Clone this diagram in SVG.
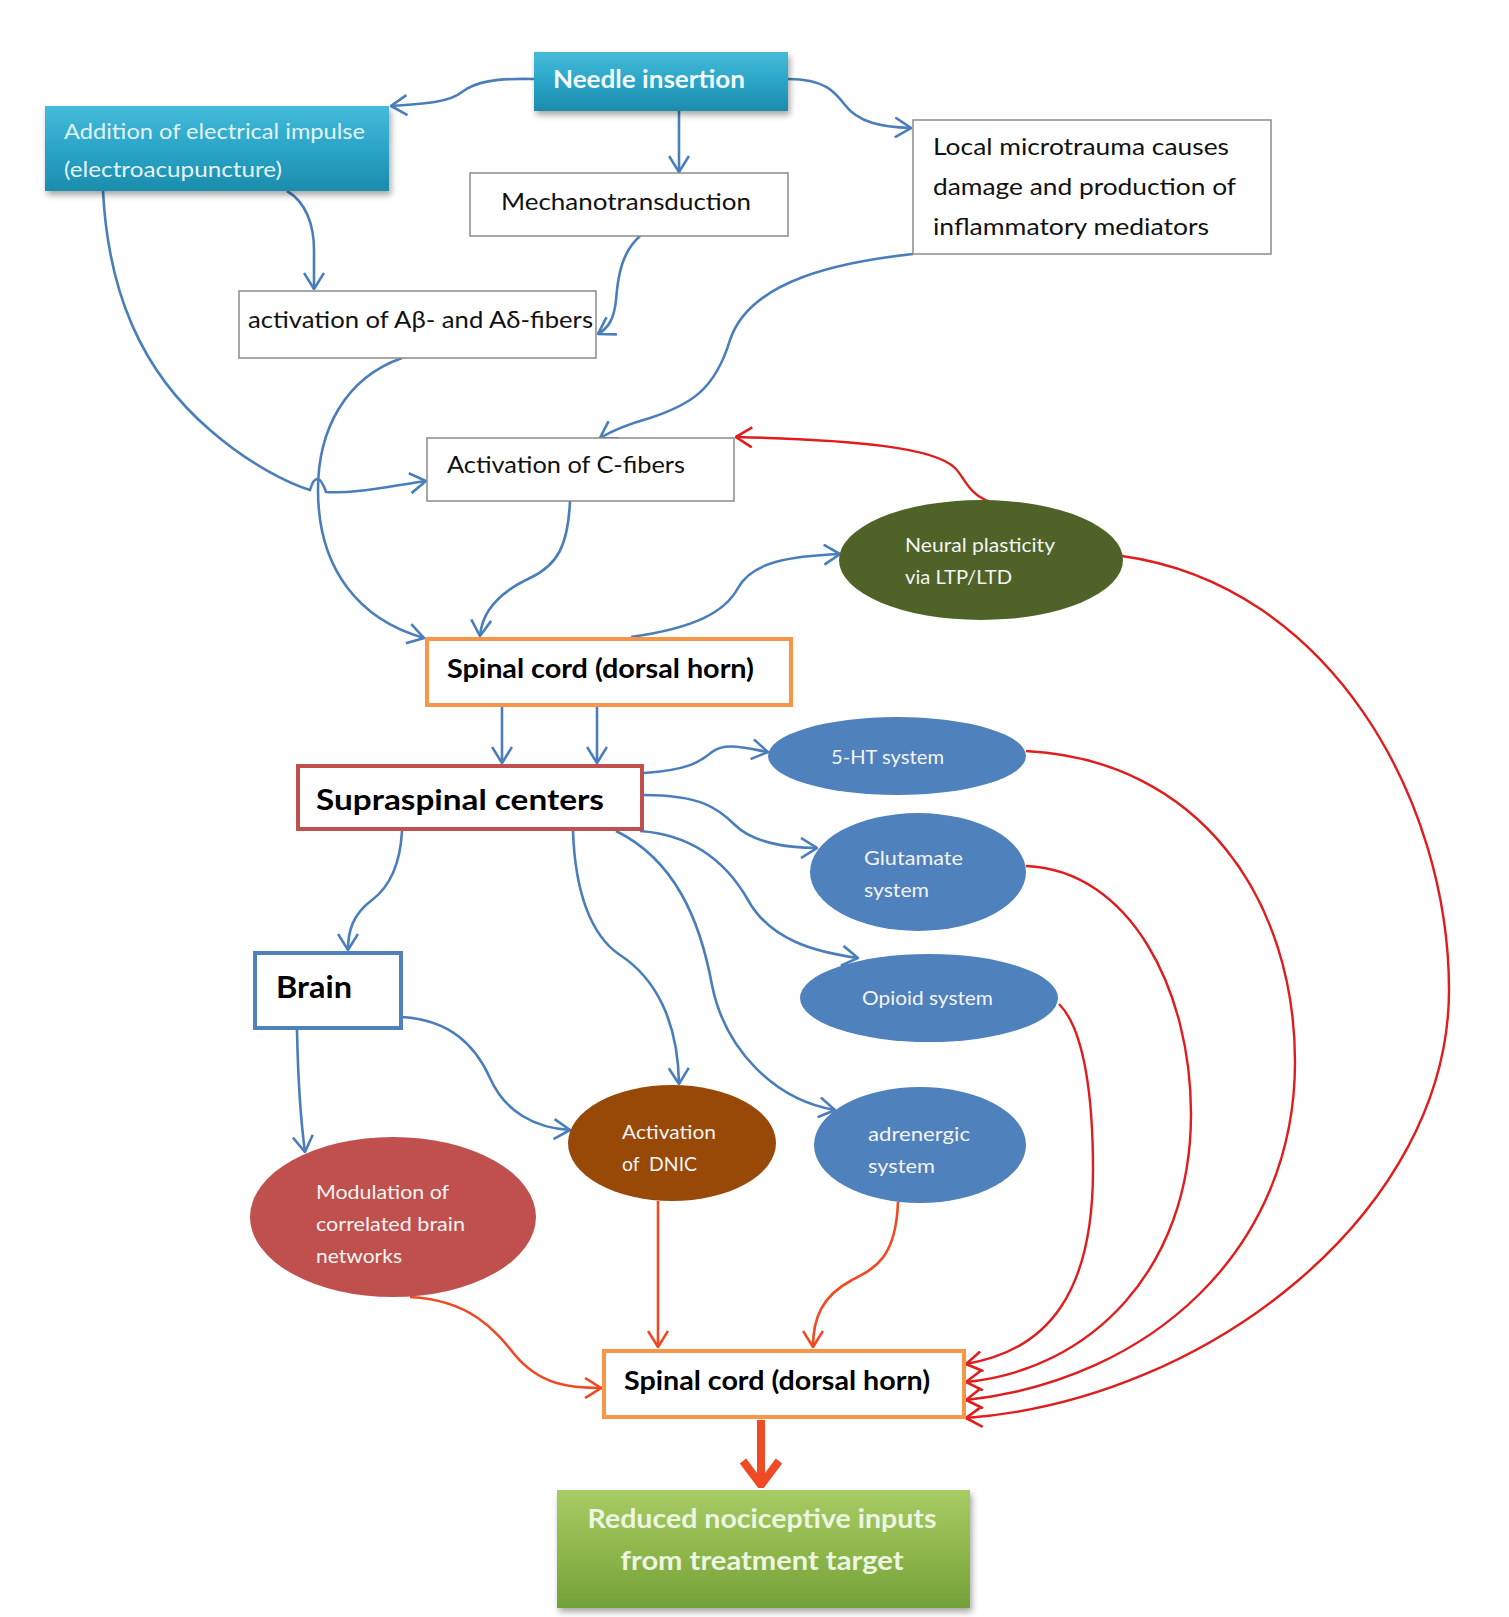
<svg xmlns="http://www.w3.org/2000/svg" width="1509" height="1617" viewBox="0 0 1509 1617">
<style>
.t{font-family:Lato,"Liberation Sans","Noto Sans",sans-serif;}
.box{fill:#fff;stroke:#8a8a8a;stroke-width:1.5}
.tx{font-size:24px;fill:#111}
.el{font-size:19px;fill:#f4f4f4}
.b{stroke:#4a7ebb;stroke-width:2.6;fill:none;marker-end:url(#ab)}
.r{stroke:#e01c1c;stroke-width:2.4;fill:none;marker-end:url(#ar)}
.o{stroke:#ee4a24;stroke-width:2.6;fill:none;marker-end:url(#ao)}
</style>
<defs>
<marker id="ab" viewBox="0 0 18 22" refX="17" refY="11" markerWidth="18" markerHeight="22" markerUnits="userSpaceOnUse" orient="auto"><path d="M1,1 L17,11 L1,21" fill="none" stroke="#4a7ebb" stroke-width="2.6"/></marker>
<marker id="ar" viewBox="0 0 18 22" refX="17" refY="11" markerWidth="18" markerHeight="22" markerUnits="userSpaceOnUse" orient="auto"><path d="M1,1 L17,11 L1,21" fill="none" stroke="#e01c1c" stroke-width="2.6"/></marker>
<marker id="ao" viewBox="0 0 18 22" refX="17" refY="11" markerWidth="18" markerHeight="22" markerUnits="userSpaceOnUse" orient="auto"><path d="M1,1 L17,11 L1,21" fill="none" stroke="#ee4a24" stroke-width="2.6"/></marker>
<marker id="big" viewBox="0 0 30 44" refX="28" refY="22" markerWidth="30" markerHeight="44" markerUnits="userSpaceOnUse" orient="auto"><path d="M3,4 L27,22 L3,40" fill="none" stroke="#ee4a24" stroke-width="8" stroke-linejoin="miter"/></marker>
<linearGradient id="teal" x1="0" y1="0" x2="0" y2="1"><stop offset="0" stop-color="#45bbd9"/><stop offset="0.5" stop-color="#2aa5c8"/><stop offset="1" stop-color="#1c8cac"/></linearGradient>
<linearGradient id="green" x1="0" y1="0" x2="0" y2="1"><stop offset="0" stop-color="#a8cb66"/><stop offset="0.5" stop-color="#8fb84c"/><stop offset="1" stop-color="#74a03a"/></linearGradient>
<filter id="sh" x="-10%" y="-20%" width="125%" height="150%"><feDropShadow dx="2" dy="4" stdDeviation="3" flood-color="#000" flood-opacity="0.35"/></filter>
</defs>

<g id="connectors">
<path class="b" d="M534,79 C495,78 475,82 462,92 C450,102 425,104 391,106"/>
<path class="b" d="M679,111 L679,172"/>
<path class="b" d="M788,79 C825,79 835,92 845,105 C858,122 880,127 911,128"/>
<path class="b" d="M287,191 C306,202 314,225 314,250 L314,289"/>
<path class="b" d="M103,191 C108,290 140,370 210,430 C250,465 290,484 310,490 C314,476 320,474 326,492 C355,494 390,486 426,481"/>
<path class="b" d="M640,236 C622,252 618,275 616,300 C614,320 608,328 598,334"/>
<path class="b" d="M402,358 C345,378 318,430 318,490 C318,570 360,620 424,638"/>
<path class="b" d="M913,254 C840,262 750,280 730,340 C715,390 690,405 650,418 C625,425 610,432 600,438"/>
<path class="b" d="M570,501 C568,545 558,565 530,578 C500,592 482,610 480,636"/>
<path class="b" d="M631,637 C695,628 725,612 738,588 C752,562 790,556 840,554"/>
<path class="r" d="M990,502 C968,494 965,478 955,468 C935,448 860,440 736,437"/>
<path class="b" d="M502,707 L502,763"/>
<path class="b" d="M597,707 L597,763"/>
<path class="b" d="M644,773 C688,770 700,762 712,752 C725,742 745,748 768,752"/>
<path class="b" d="M644,795 C700,795 718,808 735,825 C752,842 785,848 817,848"/>
<path class="b" d="M640,831 C695,835 728,865 748,900 C770,940 815,952 858,958"/>
<path class="b" d="M616,831 C675,860 700,920 712,985 C725,1050 775,1100 835,1110"/>
<path class="b" d="M573,831 C575,890 590,935 620,955 C655,978 678,1020 679,1084"/>
<path class="b" d="M402,831 C400,868 388,888 372,900 C352,915 348,932 348,950"/>
<path class="b" d="M297,1030 C298,1080 300,1115 305,1152"/>
<path class="b" d="M402,1017 C450,1020 475,1045 490,1078 C505,1112 535,1128 570,1130"/>
<path class="o" d="M658,1201 L658,1347"/>
<path class="o" d="M898,1202 C896,1258 875,1268 852,1280 C822,1296 813,1318 813,1347"/>
<path class="o" d="M410,1297 C470,1300 495,1330 515,1355 C540,1385 570,1388 601,1388"/>
<path class="r" d="M1122,556 C1330,585 1449,800 1449,990 C1449,1210 1210,1400 966,1418"/>
<path class="r" d="M1026,751 C1200,760 1295,900 1295,1062 C1295,1250 1150,1380 966,1400"/>
<path class="r" d="M1026,866 C1130,870 1191,990 1191,1114 C1191,1270 1090,1370 966,1382"/>
<path class="r" d="M1059,1004 C1085,1030 1093,1100 1093,1170 C1093,1290 1050,1350 966,1364"/>
<path d="M761,1420 L761,1486" stroke="#ee4a24" stroke-width="8" fill="none" marker-end="url(#big)"/>
</g>

<g id="needle" class="t">
<rect x="534" y="52" width="254" height="59" fill="url(#teal)" filter="url(#sh)"/>
<text x="649" y="88" text-anchor="middle" font-size="24" font-weight="bold" fill="#f4fbfd" textLength="192" lengthAdjust="spacingAndGlyphs">Needle insertion</text>
</g>
<g id="addition" class="t">
<rect x="45" y="106" width="344" height="85" fill="url(#teal)" filter="url(#sh)"/>
<text x="64" y="139" font-size="21" fill="#e4f3f8" textLength="301" lengthAdjust="spacingAndGlyphs">Addition of electrical impulse</text>
<text x="64" y="177" font-size="21" fill="#e4f3f8" textLength="218" lengthAdjust="spacingAndGlyphs">(electroacupuncture)</text>
</g>
<g id="mechano" class="t">
<rect class="box" x="470" y="173" width="318" height="63"/>
<text class="tx" x="501" y="210" textLength="250" lengthAdjust="spacingAndGlyphs">Mechanotransduction</text>
</g>
<g id="microtrauma" class="t">
<rect class="box" x="913" y="120" width="358" height="134"/>
<text class="tx" x="933" y="155" textLength="296" lengthAdjust="spacingAndGlyphs">Local microtrauma causes</text>
<text class="tx" x="933" y="195" textLength="303" lengthAdjust="spacingAndGlyphs">damage and production of</text>
<text class="tx" x="933" y="235" textLength="276" lengthAdjust="spacingAndGlyphs">inflammatory mediators</text>
</g>
<g id="abfibers" class="t">
<rect class="box" x="239" y="291" width="357" height="67"/>
<text class="tx" x="248" y="328" textLength="345" lengthAdjust="spacingAndGlyphs">activation of Aβ- and Aδ-fibers</text>
</g>
<g id="cfibers" class="t">
<rect class="box" x="427" y="438" width="307" height="63"/>
<text class="tx" x="447" y="473" textLength="238" lengthAdjust="spacingAndGlyphs">Activation of C-fibers</text>
</g>
<g id="plasticity" class="t">
<ellipse cx="981" cy="560" rx="142" ry="60" fill="#4f6228"/>
<text class="el" x="905" y="552" textLength="150" lengthAdjust="spacingAndGlyphs">Neural plasticity</text>
<text class="el" x="905" y="584" textLength="107" lengthAdjust="spacingAndGlyphs">via LTP/LTD</text>
</g>
<g id="spinal1" class="t">
<rect x="427" y="639" width="364" height="66" fill="#fff" stroke="#f79646" stroke-width="4"/>
<text x="447" y="678" font-size="27" font-weight="bold" fill="#000" textLength="307" lengthAdjust="spacingAndGlyphs">Spinal cord (dorsal horn)</text>
</g>
<g id="supraspinal" class="t">
<rect x="298" y="766" width="344" height="63" fill="#fff" stroke="#c0504d" stroke-width="4"/>
<text x="316" y="810" font-size="29" font-weight="bold" fill="#000" textLength="288" lengthAdjust="spacingAndGlyphs">Supraspinal centers</text>
</g>
<g id="ht5" class="t">
<ellipse cx="897" cy="756" rx="129" ry="39" fill="#4f81bd"/>
<text class="el" x="831" y="764" textLength="113" lengthAdjust="spacingAndGlyphs">5-HT system</text>
</g>
<g id="glutamate" class="t">
<ellipse cx="918" cy="872" rx="108" ry="59" fill="#4f81bd"/>
<text class="el" x="864" y="865" textLength="99" lengthAdjust="spacingAndGlyphs">Glutamate</text>
<text class="el" x="864" y="897" textLength="65" lengthAdjust="spacingAndGlyphs">system</text>
</g>
<g id="opioid" class="t">
<ellipse cx="929" cy="998" rx="129" ry="44" fill="#4f81bd"/>
<text class="el" x="862" y="1005" textLength="131" lengthAdjust="spacingAndGlyphs">Opioid system</text>
</g>
<g id="brain" class="t">
<rect x="255" y="953" width="146" height="75" fill="#fff" stroke="#4f81bd" stroke-width="4"/>
<text x="276" y="998" font-size="30" font-weight="bold" fill="#000" textLength="76" lengthAdjust="spacingAndGlyphs">Brain</text>
</g>
<g id="dnic" class="t">
<ellipse cx="672" cy="1143" rx="104" ry="58" fill="#984807"/>
<text class="el" x="622" y="1139" textLength="94" lengthAdjust="spacingAndGlyphs">Activation</text>
<text class="el" x="622" y="1171" style="white-space:pre" textLength="75" lengthAdjust="spacingAndGlyphs">of  DNIC</text>
</g>
<g id="adrenergic" class="t">
<ellipse cx="920" cy="1145" rx="106" ry="58" fill="#4f81bd"/>
<text class="el" x="868" y="1141" textLength="102" lengthAdjust="spacingAndGlyphs">adrenergic</text>
<text class="el" x="868" y="1173" textLength="67" lengthAdjust="spacingAndGlyphs">system</text>
</g>
<g id="modulation" class="t">
<ellipse cx="393" cy="1217" rx="143" ry="80" fill="#c0504d"/>
<text class="el" x="316" y="1199" textLength="133" lengthAdjust="spacingAndGlyphs">Modulation of</text>
<text class="el" x="316" y="1231" textLength="149" lengthAdjust="spacingAndGlyphs">correlated brain</text>
<text class="el" x="316" y="1263" textLength="86" lengthAdjust="spacingAndGlyphs">networks</text>
</g>
<g id="spinal2" class="t">
<rect x="604" y="1351" width="360" height="66" fill="#fff" stroke="#f79646" stroke-width="4"/>
<text x="624" y="1390" font-size="27" font-weight="bold" fill="#000" textLength="306" lengthAdjust="spacingAndGlyphs">Spinal cord (dorsal horn)</text>
</g>
<g id="reduced" class="t">
<rect x="557" y="1490" width="413" height="118" fill="url(#green)" filter="url(#sh)"/>
<text x="762" y="1528" text-anchor="middle" font-size="26" font-weight="bold" fill="#eef6e2" textLength="349" lengthAdjust="spacingAndGlyphs">Reduced nociceptive inputs</text>
<text x="762" y="1570" text-anchor="middle" font-size="26" font-weight="bold" fill="#eef6e2" textLength="283" lengthAdjust="spacingAndGlyphs">from treatment target</text>
</g>
</svg>
